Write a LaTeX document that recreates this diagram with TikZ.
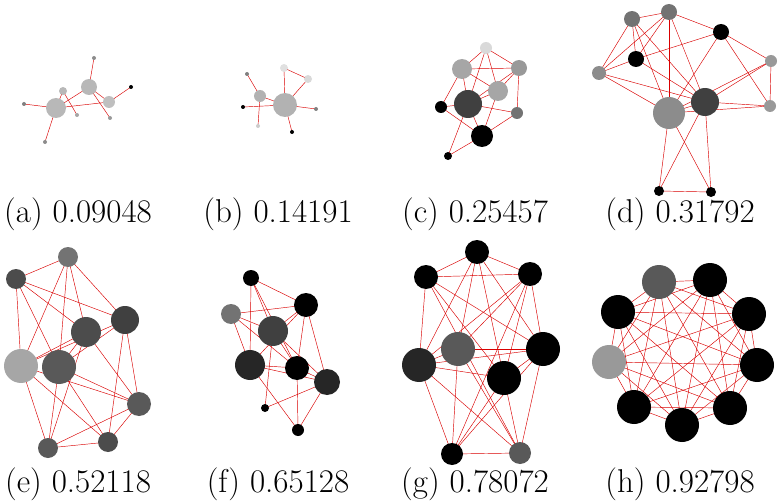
\documentclass[tikz,border=0pt]{standalone}
\usetikzlibrary{backgrounds}
\tikzset{vtx/.style={circle,inner sep=0pt,draw=none},
 ed/.style={red!85!black,line width=0.45pt},
 captxt/.style={font=\fontsize{33}{38}\selectfont,anchor=center}}
\newcommand\NV[5]{\node[vtx,fill=black!#5,minimum size=#4*2pt] (#1) at (#2,#3) {};}
\newcommand\EE[1]{\begin{scope}[on background layer]\foreach \u/\v in {#1} \draw[ed] (\u.center) -- (\v.center);\end{scope}}
\begin{document}
\begin{tikzpicture}[x=1pt,y=-1pt]
\useasboundingbox (0,0) rectangle (780,503);
% (a)
\NV{a1}{56}{108}{10}{28}\NV{a2}{89}{87}{8}{28}\NV{a3}{109}{102}{6}{25}\NV{a4}{63}{91}{4}{28}
\NV{a5}{94}{58}{2}{45}\NV{a6}{131}{87}{2}{100}\NV{a7}{24}{104}{2}{50}\NV{a8}{45}{142}{2}{45}\NV{a9}{77}{115}{2}{35}\NV{a10}{110}{118}{2}{40}
\EE{a1/a7,a1/a8,a1/a4,a1/a2,a1/a3,a4/a9,a2/a5,a2/a10,a2/a3,a3/a6}
\node[captxt] (la) at (78,214) {(a) 0.09048};
% (b)
\NV{b1}{285}{105}{12}{30}\NV{b2}{260}{96}{6}{30}\NV{b3}{284}{68}{4}{12}\NV{b4}{308}{79}{4}{15}
\NV{b5}{247}{74}{2}{50}\NV{b6}{243}{107}{2}{100}\NV{b7}{258}{126}{2}{20}\NV{b8}{292}{132}{2}{100}\NV{b9}{316}{109}{2}{50}
\EE{b3/b4,b3/b1,b4/b1,b2/b5,b2/b1,b2/b7,b6/b1,b1/b8,b1/b9}
\node[captxt] (lb) at (278,214) {(b) 0.14191};
% (c)
\NV{c1}{486}{48}{6}{15}\NV{c2}{462}{69}{10}{35}\NV{c3}{519}{68}{8}{40}\NV{c4}{498}{91}{10}{35}\NV{c5}{468}{104}{14}{75}
\NV{c6}{441}{107}{6}{100}\NV{c7}{517}{113}{6}{55}\NV{c8}{482}{136}{11}{100}\NV{c9}{448}{156}{4}{100}
\EE{c1/c2,c1/c3,c1/c4,c1/c5,c2/c3,c2/c4,c2/c5,c2/c6,c3/c4,c3/c7,c3/c5,c4/c5,c4/c8,c5/c7,c5/c8,c6/c8,c6/c5,c8/c7,c8/c9,c5/c9}
\node[captxt] (lc) at (475,214) {(c) 0.25457};
% (d)
\NV{d1}{632}{19}{8}{55}\NV{d2}{669}{12}{8}{55}\NV{d3}{721}{32}{8}{100}\NV{d4}{636}{59}{8}{100}\NV{d5}{599}{73}{7}{45}
\NV{d6}{771}{61}{6}{40}\NV{d7}{770}{106}{6}{40}\NV{d8}{669}{113}{16}{45}\NV{d9}{705}{102}{14}{75}\NV{d10}{659}{191}{5}{100}\NV{d11}{711}{192}{5}{100}
\EE{d1/d2,d2/d3,d1/d5,d2/d5,d1/d8,d1/d9,d2/d8,d2/d9,d3/d4,d3/d8,d3/d6,d4/d5,d5/d8,d5/d9,d4/d9,d4/d1,d6/d7,d6/d9,d6/d8,d7/d9,d7/d8,d8/d9,d8/d10,d8/d11,d9/d10,d9/d11,d10/d11,d3/d7,d2/d4}
\node[captxt] (ld) at (680,214) {(d) 0.31792};
% (e)
\NV{e1}{68}{257}{10}{55}\NV{e2}{16}{279}{10}{70}\NV{e3}{86}{332}{15}{70}\NV{e4}{125}{320}{14}{75}\NV{e5}{21}{366}{17}{35}
\NV{e6}{59}{367}{17}{65}\NV{e7}{139}{404}{12}{65}\NV{e8}{48}{448}{10}{65}\NV{e9}{108}{442}{10}{70}
\EE{e2/e1,e2/e5,e2/e6,e2/e3,e2/e4,e1/e5,e1/e6,e1/e3,e1/e4,e3/e5,e3/e6,e4/e5,e4/e6,e4/e7,e4/e9,e3/e8,e3/e7,e5/e8,e5/e9,e5/e7,e6/e8,e6/e9,e6/e7,e8/e9,e8/e7,e9/e7}
\node[captxt] (le) at (78,484) {(e) 0.52118};
% (f)
\NV{f1}{251}{278}{8}{100}\NV{f2}{306}{305}{12}{100}\NV{f3}{231}{314}{10}{55}\NV{f4}{273}{331}{15}{75}\NV{f5}{250}{365}{15}{85}
\NV{f6}{297}{368}{12}{100}\NV{f7}{327}{382}{13}{85}\NV{f8}{265}{408}{4}{100}\NV{f9}{298}{430}{6}{100}
\EE{f1/f2,f1/f5,f1/f4,f1/f6,f3/f2,f3/f4,f3/f5,f3/f6,f2/f4,f2/f5,f2/f6,f2/f7,f4/f6,f4/f7,f4/f8,f5/f6,f5/f7,f5/f9,f6/f9,f7/f9,f7/f8,f6/f7}
\node[captxt] (lf) at (278,484) {(f) 0.65128};
% (g)
\NV{g1}{477}{252}{12}{100}\NV{g2}{426}{277}{12}{100}\NV{g3}{530}{274}{12}{100}\NV{g4}{458}{349}{17}{65}\NV{g5}{419}{365}{17}{85}
\NV{g6}{543}{349}{17}{100}\NV{g7}{504}{378}{17}{100}\NV{g8}{452}{454}{11}{100}\NV{g9}{520}{453}{11}{65}
\EE{g1/g2,g1/g3,g1/g5,g1/g4,g1/g6,g1/g7,g2/g3,g2/g5,g2/g6,g2/g7,g2/g9,g3/g5,g3/g4,g3/g6,g3/g8,g3/g7,g4/g5,g4/g6,g4/g8,g4/g9,g5/g6,g5/g7,g5/g8,g5/g9,g6/g7,g6/g8,g6/g9,g7/g8,g7/g9,g8/g9}
\node[captxt] (lg) at (475,484) {(g) 0.78072};
% (h)
\NV{h1}{659}{282}{17}{65}\NV{h2}{710}{280}{17}{100}\NV{h3}{749}{314}{17}{100}\NV{h4}{757}{365}{17}{100}\NV{h5}{730}{408}{17}{100}
\NV{h6}{682}{425}{17}{100}\NV{h7}{634}{407}{17}{100}\NV{h8}{609}{362}{17}{40}\NV{h9}{618}{312}{17}{100}
\begin{scope}[on background layer]
\foreach \i in {1,...,9}{\foreach \j in {1,...,9}{\ifnum\i<\j \draw[ed] (h\i.center) -- (h\j.center);\fi}}
\end{scope}
\node[captxt] (lh) at (680,484) {(h) 0.92798};
\end{tikzpicture}
\end{document}
